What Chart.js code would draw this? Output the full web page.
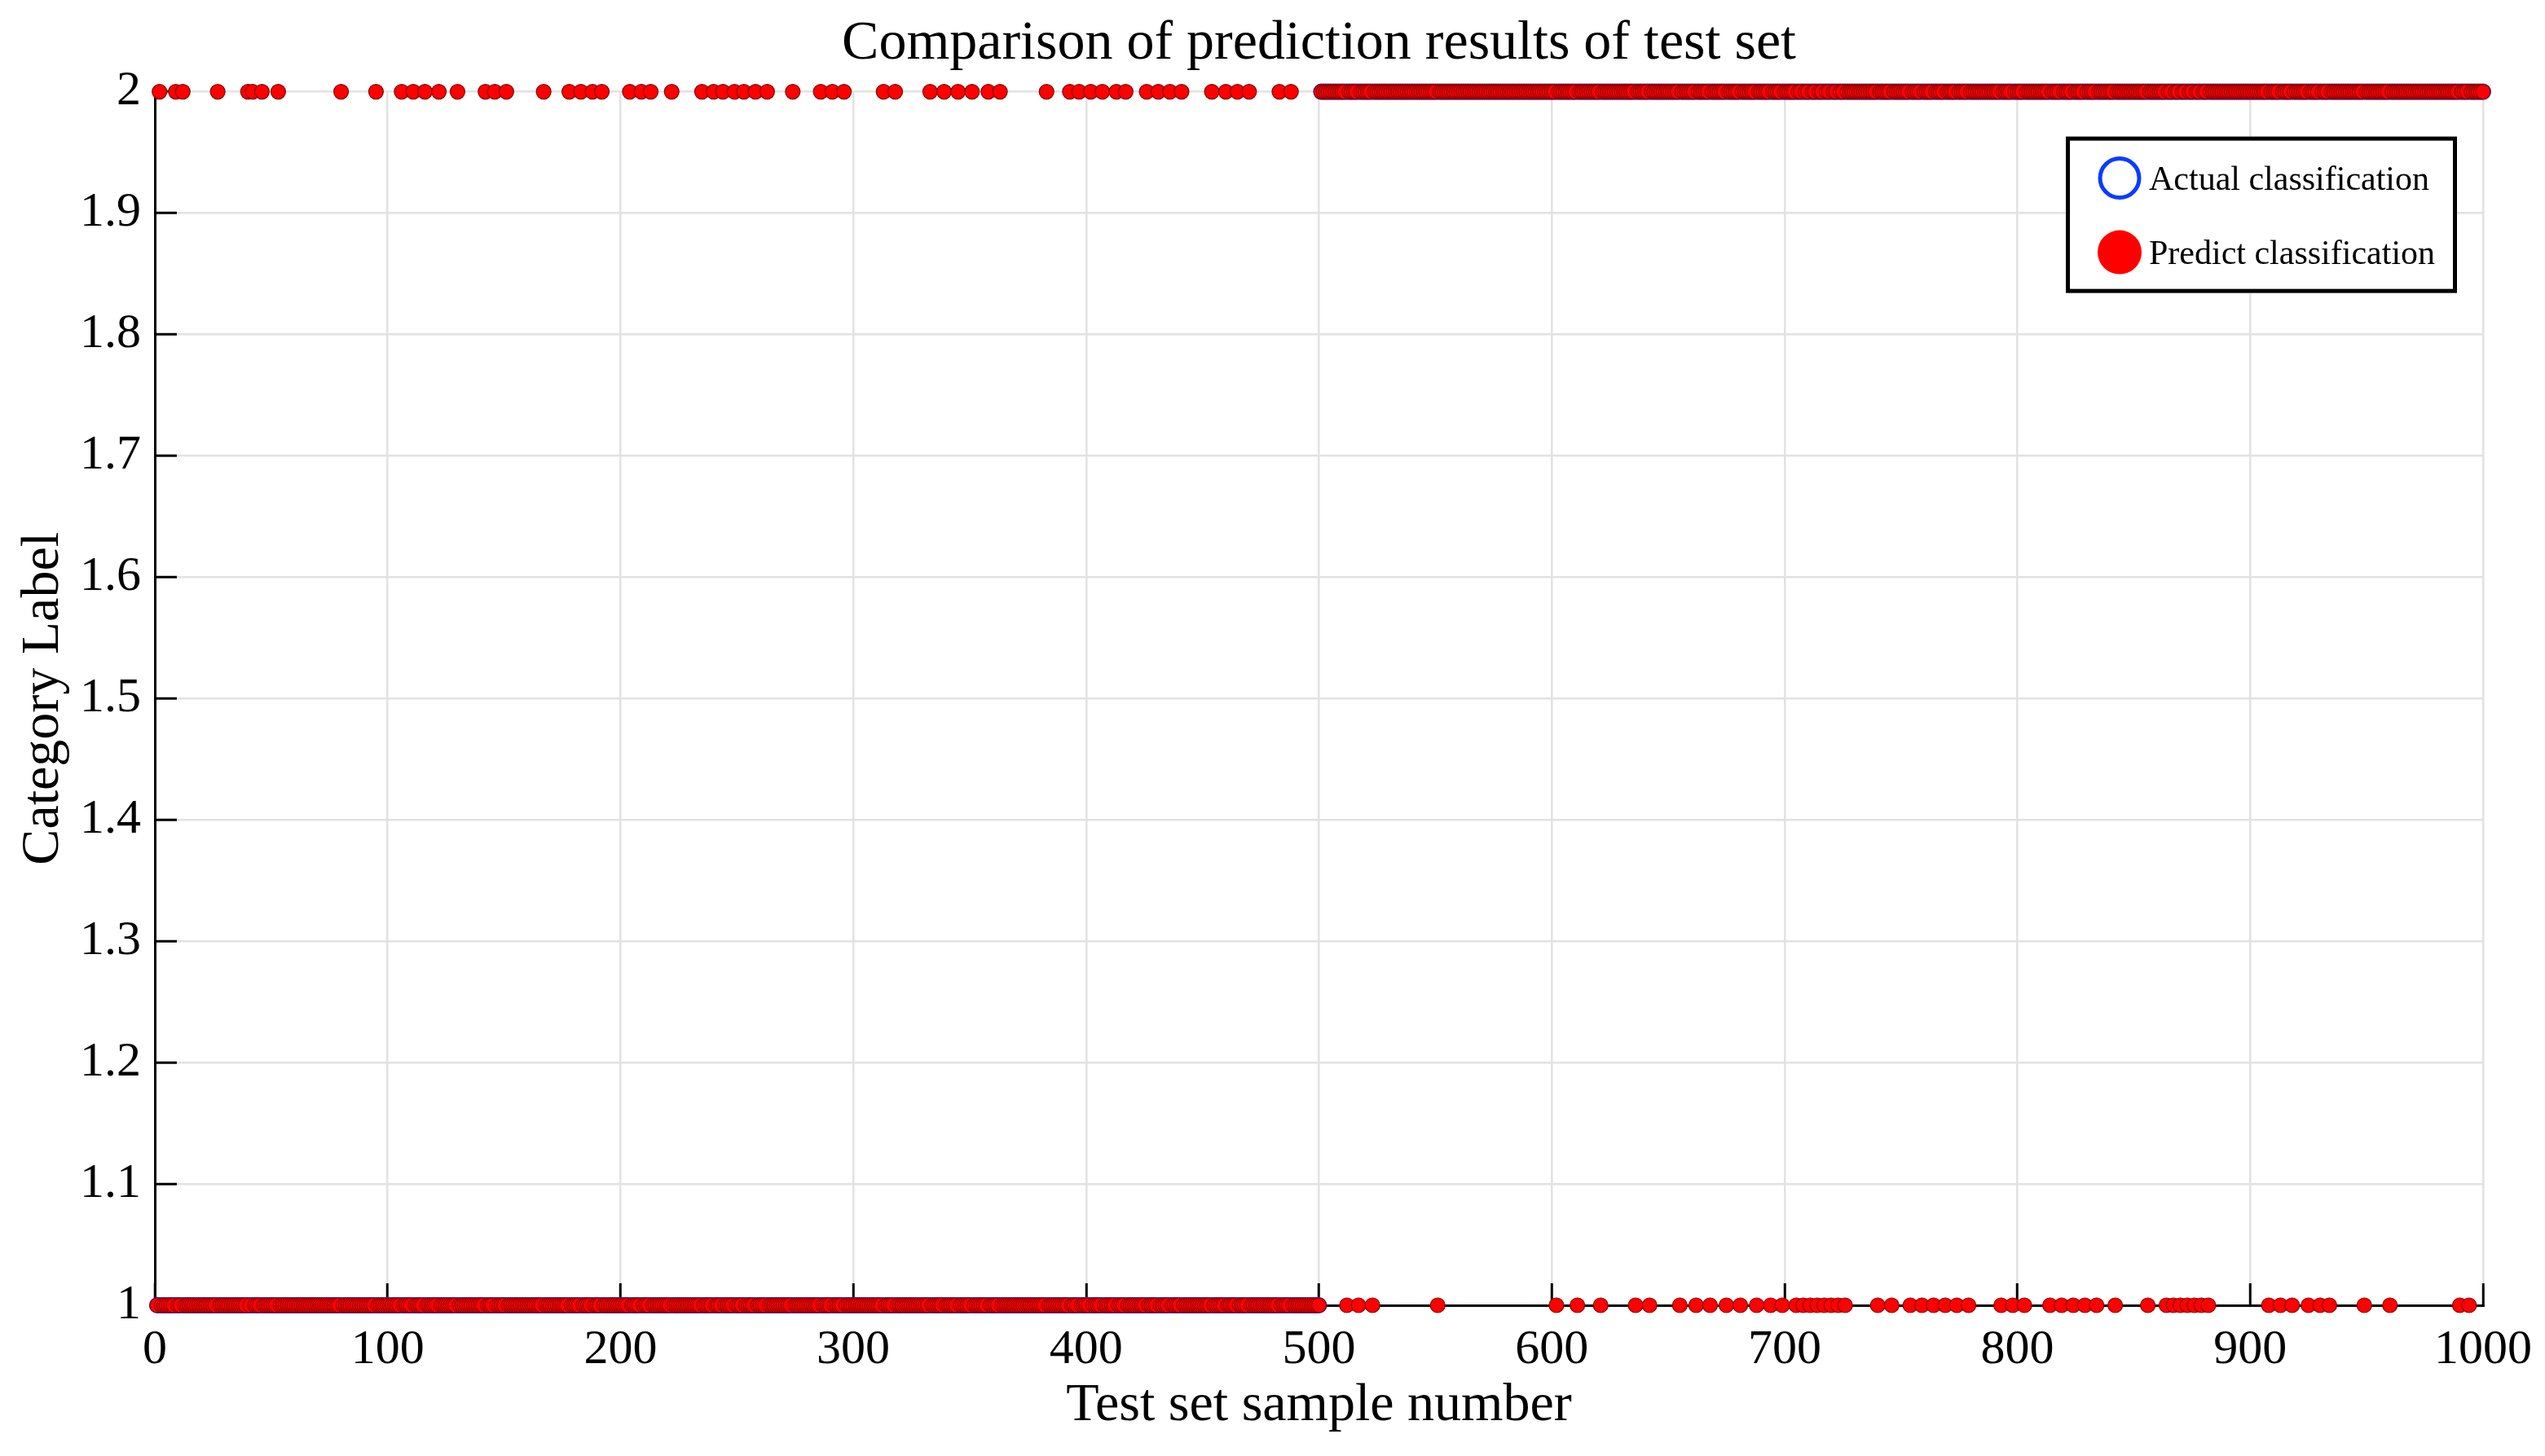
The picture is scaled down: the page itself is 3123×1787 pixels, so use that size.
<!DOCTYPE html>
<html>
<head>
<meta charset="utf-8">
<title>Comparison of prediction results of test set</title>
<script src="https://cdn.jsdelivr.net/npm/chart.js@4.4.1/dist/chart.umd.min.js"></script>
<style>
    html, body { margin: 0; padding: 0; background: #fff; }
    canvas { display: block; }
</style>
</head>
<body>
<canvas id="chart" width="3123" height="1787"></canvas>
<script>
// DATA
// true class of the test samples, as runs of sample numbers
const actualRuns = [
    { from: 1, to: 500, label: 1 },
    { from: 501, to: 1000, label: 2 }
];

const wrongAsTwo = [
    2, 9, 12, 27, 40, 42, 46, 53, 80, 95, 106, 111, 116, 122, 130, 142, 146, 151,
    167, 178, 183, 188, 192, 204, 209, 213, 222, 235, 240, 244, 249, 253, 258, 263,
    274, 286, 291, 296, 313, 318, 333, 339, 345, 351, 358, 363, 383, 393, 397, 402,
    407, 413, 417, 426, 431, 436, 441, 454, 460, 465, 470, 483, 488
];

const wrongAsOne = [
    512, 517, 523, 551, 602, 611, 621, 636, 642, 655, 662, 668, 675, 681, 688, 694,
    699, 705, 708, 711, 714, 717, 720, 723, 726, 740, 746, 754, 759, 764, 769, 774,
    779, 793, 798, 803, 814, 819, 824, 829, 834, 842, 856, 864, 867, 870, 873, 876,
    879, 882, 908, 913, 918, 925, 930, 934, 949, 960, 990, 994
];

const xTicks = [0, 100, 200, 300, 400, 500, 600, 700, 800, 900, 1000];
const xTickLabels = ['0', '100', '200', '300', '400', '500', '600', '700', '800', '900', '1000'];
const yTicks = [1, 1.1, 1.2, 1.3, 1.4, 1.5, 1.6, 1.7, 1.8, 1.9, 2];
const yTickLabels = ['1', '1.1', '1.2', '1.3', '1.4', '1.5', '1.6', '1.7', '1.8', '1.9', '2'];

// BUILD POINTS
const actualPoints = [];
actualRuns.forEach(r => {
    for (let n = r.from; n <= r.to; n++) actualPoints.push({ x: n, y: r.label });
});

const predictPoints = actualPoints.map(p => {
    if (wrongAsTwo.includes(p.x)) return { x: p.x, y: 2 };
    if (wrongAsOne.includes(p.x)) return { x: p.x, y: 1 };
    return { x: p.x, y: p.y };
});

// LEGEND (boxed, inside the plot, top right)
const boxLegend = {
    id: 'boxLegend',
    afterDraw(chart) {
        const { ctx, chartArea } = chart;
        const w = 480, h = 192;
        const left = chartArea.right - 32 - w;
        const top = chartArea.top + 55;

        ctx.save();
        ctx.fillStyle = '#fff';
        ctx.fillRect(left, top, w, h);
        ctx.lineWidth = 5;
        ctx.strokeStyle = '#000';
        ctx.strokeRect(left + 2.5, top + 2.5, w - 5, h - 5);

        chart.data.datasets.forEach((ds, i) => {
            const cx = left + 66;
            const cy = top + 51 + i * 91;
            ctx.beginPath();
            if (ds.legendFilled) {
                ctx.arc(cx, cy, 27, 0, Math.PI * 2);
                ctx.fillStyle = ds.backgroundColor;
                ctx.fill();
            } else {
                ctx.arc(cx, cy, 24, 0, Math.PI * 2);
                ctx.lineWidth = 5;
                ctx.strokeStyle = ds.borderColor;
                ctx.stroke();
            }
            ctx.fillStyle = '#000';
            ctx.font = '42px "Liberation Serif", "Times New Roman", serif';
            ctx.textBaseline = 'middle';
            ctx.textAlign = 'left';
            ctx.fillText(ds.label, left + 102, cy + 3);
        });
        ctx.restore();
    }
};

Chart.defaults.font.family = '"Liberation Serif", "Times New Roman", serif';
Chart.defaults.color = '#000';

const gridStyle = {
    color: '#e2e2e2',
    lineWidth: 2.5,
    tickColor: '#000',
    tickWidth: 3,
    tickLength: -27
};

new Chart(document.getElementById('chart'), {
    type: 'scatter',
    data: {
        datasets: [
            {
                label: 'Actual classification',
                data: actualPoints,
                order: 2,
                pointStyle: 'circle',
                pointRadius: 9,
                borderWidth: 2,
                borderColor: '#0a3cff',
                backgroundColor: 'rgba(255,255,255,0)',
                legendFilled: false,
                clip: false
            },
            {
                label: 'Predict classification',
                data: predictPoints,
                order: 1,
                pointStyle: 'circle',
                pointRadius: 9,
                borderWidth: 1.2,
                borderColor: '#8a0000',
                backgroundColor: '#ff0000',
                legendFilled: true,
                clip: false
            }
        ]
    },
    options: {
        responsive: false,
        animation: false,
        events: [],
        layout: { padding: { top: 0, right: 76, bottom: 0, left: 0 } },
        plugins: {
            legend: { display: false },
            tooltip: { enabled: false },
            title: {
                display: true,
                text: 'Comparison of prediction results of test set',
                fullSize: false,
                color: '#000',
                font: { size: 68, weight: 'normal' },
                padding: { top: 13, bottom: 18 }
            }
        },
        scales: {
            x: {
                type: 'linear',
                min: 0,
                max: 1000,
                afterBuildTicks: s => { s.ticks = xTicks.map(v => ({ value: v })); },
                afterFit: s => { s.height = 185; s.paddingLeft = 0; s.paddingRight = 0; },
                grid: gridStyle,
                border: { color: '#000', width: 3 },
                ticks: {
                    color: '#000',
                    font: { size: 60 },
                    padding: 46,
                    maxRotation: 0,
                    autoSkip: false,
                    callback: (v, i) => xTickLabels[i]
                },
                title: {
                    display: true,
                    text: 'Test set sample number',
                    color: '#000',
                    font: { size: 66 },
                    padding: { top: 0, bottom: 22 }
                }
            },
            y: {
                type: 'linear',
                min: 1,
                max: 2,
                afterBuildTicks: s => { s.ticks = yTicks.map(v => ({ value: v })); },
                afterFit: s => { s.width = 190; },
                grid: gridStyle,
                border: { color: '#000', width: 3 },
                ticks: {
                    color: '#000',
                    font: { size: 60 },
                    padding: 44,
                    autoSkip: false,
                    callback: (v, i) => yTickLabels[i]
                },
                title: {
                    display: true,
                    text: 'Category Label',
                    color: '#000',
                    font: { size: 66 },
                    padding: { top: 14, bottom: 0 }
                }
            }
        }
    },
    plugins: [boxLegend]
});
</script>
</body>
</html>
